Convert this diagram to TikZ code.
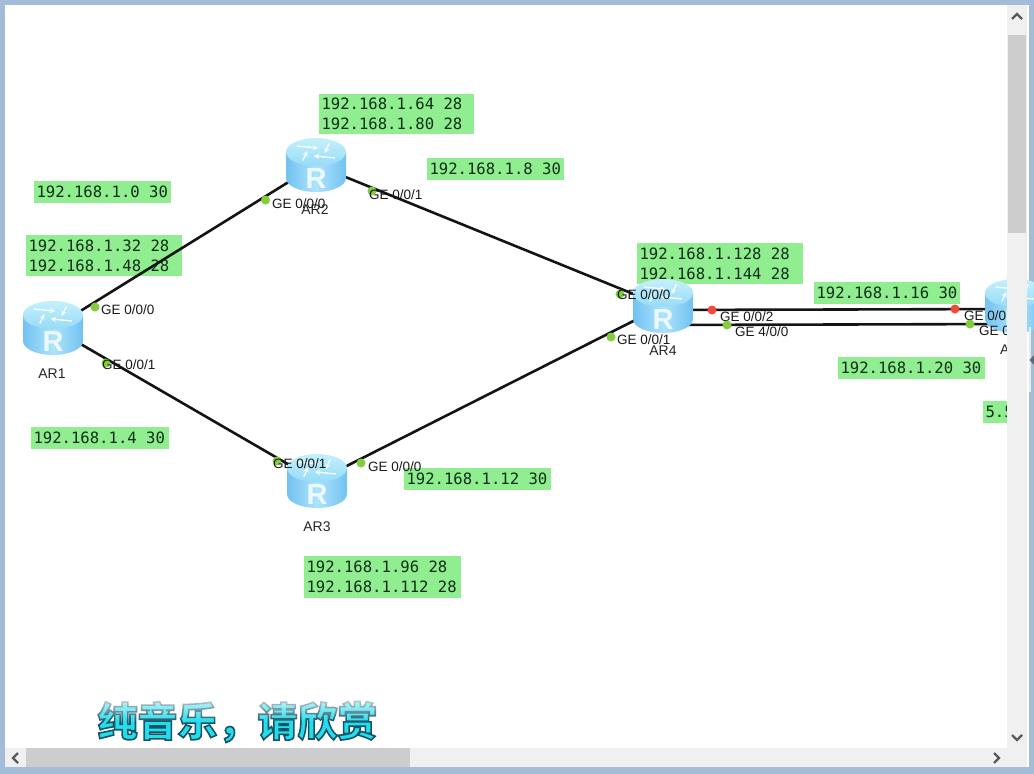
\documentclass[tikz,border=0pt]{standalone}
\usepackage{fontspec}
\setmainfont{Liberation Sans}
\newfontfamily\addrfont{DejaVu Sans Mono}
\newfontfamily\cjkfont{Noto Sans CJK SC}
\definecolor{framecol}{HTML}{A3BDD8}
\definecolor{barcol}{HTML}{F0F0F0}
\definecolor{thumbcol}{HTML}{CDCDCD}
\definecolor{netgreen}{HTML}{90EE90}
\definecolor{addrtext}{HTML}{0E2E16}
\definecolor{portgreen}{HTML}{82CC3E}
\definecolor{portred}{HTML}{F2493B}
\definecolor{linkcol}{HTML}{141414}
\definecolor{bodyside}{HTML}{72C2F1}
\definecolor{bodymid}{HTML}{AEE3FB}
\definecolor{topback}{HTML}{C4F0FC}
\definecolor{topfront}{HTML}{97DBF8}
\definecolor{captionfill}{HTML}{22DDEC}
\tikzset{
    net/.style={fill=netgreen, text=addrtext, inner xsep=2.5pt, inner ysep=0pt, align=flush left,
        text width=#1pt-5pt, font=\addrfont\fontsize{15.6}{20}\selectfont},
    port/.style={circle, inner sep=0pt, minimum size=9pt, fill=portgreen},
    portdown/.style={port, fill=portred},
    portlabel/.style={anchor=west, inner sep=0pt, text=black!90, font=\fontsize{13.5}{16}\selectfont},
    routername/.style={inner sep=0pt, text=black!85, font=\fontsize{14}{16}\selectfont},
    link/.style={line width=2.6pt, linkcol},
    router/.pic={
        % Body
        \shade[left color=bodyside, right color=bodyside, middle color=bodymid]
            (-30,-13) -- (-30,13) arc (180:360:30pt and 14pt) -- (30,-13) -- cycle;
        % Top
        \shade[top color=topback, bottom color=topfront] (0,-13) ellipse (30pt and 14pt);
        \begin{scope}[shift={(0,-13)}, yscale=0.45]
            \foreach \a in {35,125,215,305}
                \draw[->, >=stealth, white!85!topback, line width=1.4pt] (\a:23) -- (\a+70:9);
        \end{scope}
        \node[inner sep=0pt, text=white!92!cyan, font=\bfseries\fontsize{29}{29}\selectfont] (-r) at (0,14) {R};
    }
}
\begin{document}
\begin{tikzpicture}[x=1pt, y=-1pt]
    \useasboundingbox (0,0) rectangle (1034,774);
    \fill[framecol] (0,0) rectangle (1034,774);
    \fill[white] (4.5,4.5) rectangle (1029,767);
    % Routers
    \coordinate (AR1) at (53,328);
    \coordinate (AR2) at (316,165);
    \coordinate (AR3) at (317,481);
    \coordinate (AR4) at (663,306);
    \coordinate (AR5) at (1015,306);
    \coordinate (AR4a) at (663,310);
    \coordinate (AR4b) at (663,325);
    \coordinate (AR5a) at (1015,309);
    \coordinate (AR5b) at (1015,324);
    % Networks
    \node[net=155, minimum height=40pt] (net64) at (396.5,114) {192.168.1.64 28\\192.168.1.80 28};
    \node[net=137, minimum height=22pt] (net8) at (495.5,169) {192.168.1.8 30};
    \node[net=137, minimum height=22pt] (net0) at (102.5,192) {192.168.1.0 30};
    \node[net=156, minimum height=41pt] (net32) at (104,255.5) {192.168.1.32 28\\192.168.1.48 28};
    \node[net=138, minimum height=22pt] (net4) at (100,438) {192.168.1.4 30};
    \node[net=147, minimum height=22pt] (net12) at (477.5,479) {192.168.1.12 30};
    \node[net=157, minimum height=42pt] (net96) at (382.5,577) {192.168.1.96 28\\192.168.1.112 28};
    \node[net=166, minimum height=41pt] (net128) at (720,263.5) {192.168.1.128 28\\192.168.1.144 28};
    \node[net=146, minimum height=22pt] (net16) at (887,293) {192.168.1.16 30};
    \node[net=147, minimum height=22pt] (net20) at (911.5,368) {192.168.1.20 30};
    \node[net=40, minimum height=22pt] (net5) at (1003,412) {5.5};
    % Links
    \draw[link] (AR1) -- (AR2);
    \draw[link] (AR1) -- (AR3);
    \draw[link] (AR2) -- (AR4);
    \draw[link] (AR3) -- (AR4);
    \draw[link] (AR4a) -- (AR5a);
    \draw[link] (AR4b) -- (AR5b);
    % Router icons
    \pic (icon1) at (AR1) {router};
    \pic (icon2) at (AR2) {router};
    \pic (icon3) at (AR3) {router};
    \pic (icon4) at (AR4) {router};
    \pic (icon5) at (AR5) {router};
    \node[routername] (name1) at (52,374) {AR1};
    \node[routername] (name2) at (315,210) {AR2};
    \node[routername] (name3) at (317,527) {AR3};
    \node[routername] (name4) at (663,351) {AR4};
    \node[routername, anchor=west] (name5) at (1000,350) {A};
    % Ports
    \node[port] (p1a) at (95,307) {};
    \node[portlabel] (l1a) at (101,310) {GE 0/0/0};
    \node[port] (p1b) at (106,363) {};
    \node[portlabel] (l1b) at (102,365) {GE 0/0/1};
    \node[port] (p2a) at (265.5,200) {};
    \node[portlabel] (l2a) at (272,204) {GE 0/0/0};
    \node[port] (p2b) at (372,191) {};
    \node[portlabel] (l2b) at (369,195) {GE 0/0/1};
    \node[port] (p3a) at (277,461) {};
    \node[portlabel] (l3a) at (273,464) {GE 0/0/1};
    \node[port] (p3b) at (361,463) {};
    \node[portlabel] (l3b) at (368,467) {GE 0/0/0};
    \node[port] (p4a) at (620,294) {};
    \node[portlabel] (l4a) at (617,295) {GE 0/0/0};
    \node[port] (p4b) at (611,337) {};
    \node[portlabel] (l4b) at (617,340) {GE 0/0/1};
    \node[portdown] (p4c) at (712,310) {};
    \node[portlabel] (l4c) at (720,317) {GE 0/0/2};
    \node[port] (p4d) at (727,325) {};
    \node[portlabel] (l4d) at (735,332) {GE 4/0/0};
    \node[portdown] (p5a) at (955,309) {};
    \node[portlabel] (l5a) at (964,316) {GE 0/0};
    \node[port] (p5b) at (970,324) {};
    \node[portlabel] (l5b) at (979,331) {GE 0};
    % Scroll bars
    \fill[barcol] (1007,4.5) rectangle (1027,767);
    \fill[thumbcol] (1008,35) rectangle (1026,233);
    \fill[barcol] (4.5,748) rectangle (1027,767);
    \fill[thumbcol] (26,748) rectangle (410,767);
    \fill[white!70!framecol] (1029,327) rectangle (1031,392);
    \fill[black!45!framecol] (1029.5,360) -- (1034,355) -- (1034,365) -- cycle;
    \draw[line width=2.2pt, black!65] (1012,19) -- (1017,14) -- (1022,19);
    \draw[line width=2.2pt, black!65] (1012,735) -- (1017,740) -- (1022,735);
    \draw[line width=2.2pt, black!65] (18,753) -- (13,758) -- (18,763);
    \draw[line width=2.2pt, black!65] (994,753) -- (999,758) -- (994,763);
    % Caption
    \node[inner sep=0pt, text=captionfill, font=\cjkfont\bfseries\fontsize{40}{40}\selectfont] (caption) at (237.5,722)
        {\special{pdf:code 2 Tr 1.6 w 0.10 0.33 0.40 RG}纯音乐，请欣赏\special{pdf:code 0 Tr 1 w}};
    \foreach \i in {0,...,21}
        \fill[white, opacity=0.7-0.032*\i] (90,700+\i) rectangle (385,701+\i);
\end{tikzpicture}
\end{document}
